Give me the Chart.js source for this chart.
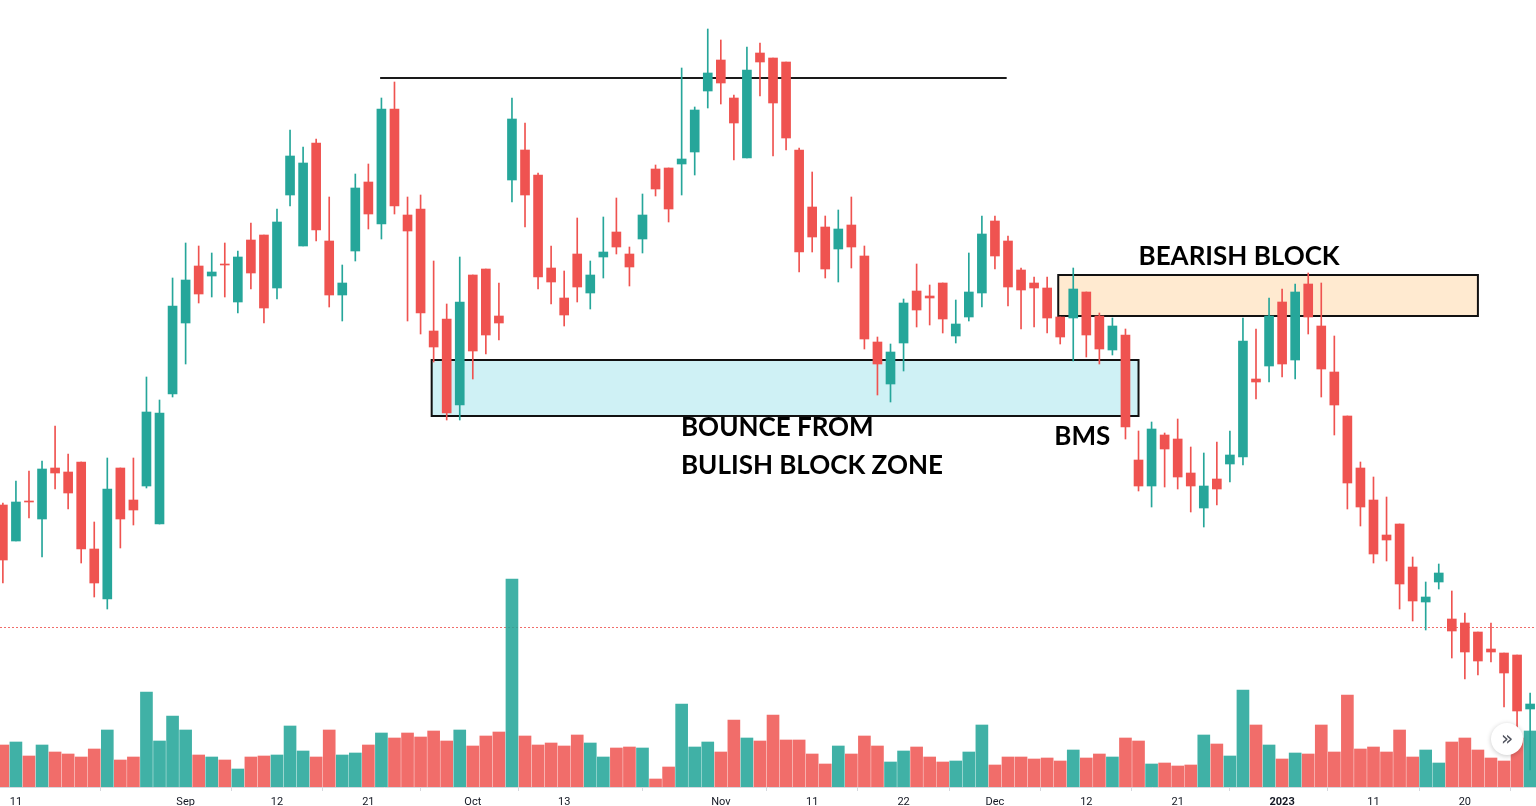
<!DOCTYPE html>
<html>
<head>
<meta charset="utf-8">
<script src="https://cdn.jsdelivr.net/npm/chart.js@4.4.1/dist/chart.umd.min.js"></script>
<style>
  html, body { margin: 0; padding: 0; background: #ffffff; overflow: hidden; }
  #wrap { position: relative; width: 1536px; height: 806px; }
  canvas { display: block; }
  #scrollBtn {
    position: absolute; left: 1491px; top: 723px; width: 32px; height: 32px;
    border-radius: 50%; background: #ffffff; box-shadow: 0 1px 5px rgba(0,0,0,0.22);
    font: 20px "DejaVu Sans", sans-serif; color: #50535e; text-align: center; line-height: 30px;
  }
</style>
</head>
<body>
<div id="wrap">
  <canvas id="c" width="1536" height="806"></canvas>
  <div id="scrollBtn">»</div>
</div>
<script>
// ---- Trading days (categories) ----
const dates = [
  '2022-08-10','2022-08-11','2022-08-12','2022-08-16','2022-08-17','2022-08-18','2022-08-19','2022-08-22','2022-08-23','2022-08-24',
  '2022-08-25','2022-08-26','2022-08-29','2022-08-30',
  '2022-09-01','2022-09-02','2022-09-05','2022-09-06','2022-09-07','2022-09-08','2022-09-09','2022-09-12','2022-09-13','2022-09-14',
  '2022-09-15','2022-09-16','2022-09-19','2022-09-20','2022-09-21','2022-09-22','2022-09-23','2022-09-26','2022-09-27','2022-09-28',
  '2022-09-29','2022-09-30',
  '2022-10-03','2022-10-04','2022-10-06','2022-10-07','2022-10-10','2022-10-11','2022-10-12','2022-10-13','2022-10-14','2022-10-17',
  '2022-10-18','2022-10-19','2022-10-20','2022-10-21','2022-10-24','2022-10-25','2022-10-27','2022-10-28','2022-10-31',
  '2022-11-01','2022-11-02','2022-11-03','2022-11-04','2022-11-07','2022-11-09','2022-11-10','2022-11-11','2022-11-14','2022-11-15',
  '2022-11-16','2022-11-17','2022-11-18','2022-11-21','2022-11-22','2022-11-23','2022-11-24','2022-11-25','2022-11-28','2022-11-29',
  '2022-11-30',
  '2022-12-01','2022-12-02','2022-12-05','2022-12-06','2022-12-07','2022-12-08','2022-12-09','2022-12-12','2022-12-13','2022-12-14',
  '2022-12-15','2022-12-16','2022-12-19','2022-12-20','2022-12-21','2022-12-22','2022-12-23','2022-12-26','2022-12-27','2022-12-28',
  '2022-12-29','2022-12-30',
  '2023-01-02','2023-01-03','2023-01-04','2023-01-05','2023-01-06','2023-01-09','2023-01-10','2023-01-11','2023-01-12','2023-01-13',
  '2023-01-16','2023-01-17','2023-01-18','2023-01-19','2023-01-20','2023-01-23','2023-01-24','2023-01-25','2023-01-27','2023-01-30'
];

// ---- OHLC series ----
const openP = [
  295,259,299,281,332,328,338,251,201,332, 300,314,276,406,477,534,524,536,498,560,
  565,512,605,554,657,559,505,549,618,576, 691,585,591,469,481,395,525,531,484,620,
  650,625,532,502,546,507,543,568,546,561, 631,632,636,648,709,740,702,642,747,742,
  738,650,593,573,551,575,544,458,416,457, 509,504,517,464,483,507,579,559,530,517,
  512,483,482,508,484,450,465,340,314,365, 361,327,292,321,336,343,421,434,498,440,
  516,474,428,384,332,300,265,276,233,198, 218,181,177,168,151,147,145,91
];
const highP = [
  297,319,329,339,374,346,338,278,342,332, 342,423,400,522,557,554,547,557,549,577,
  565,591,670,653,661,603,535,626,636,702, 718,603,605,539,496,543,525,531,517,702,
  677,627,554,529,582,539,583,602,553,606, 635,632,732,693,771,760,705,753,757,742,
  738,652,628,584,590,603,554,463,456,501, 536,515,517,500,547,584,584,564,532,523,
  523,483,532,508,487,482,471,369,378,367, 381,353,347,358,369,482,471,502,511,516,
  527,517,464,384,338,323,303,276,243,218, 236,209,187,168,177,147,145,107
];
const lowP = [
  217,259,282,243,311,291,237,203,191,252, 275,312,276,403,436,497,503,503,487,511,
  477,501,594,554,559,493,479,539,571,561, 586,479,466,438,380,380,421,446,460,598,
  573,511,496,474,498,491,522,546,514,547, 604,578,605,625,692,696,640,642,704,644,
  650,528,548,522,518,532,451,405,398,429, 473,475,467,457,479,493,531,494,471,473,
  467,456,439,443,436,445,361,309,293,313, 311,288,273,295,318,335,401,418,423,421,
  466,403,365,291,274,237,239,191,179,170, 211,142,121,125,138,93,72,30
];
const closeP = [
  240,298,298,331,327,307,251,217,311,281, 290,388,387,494,520,506,528,535,543,527,
  492,578,644,637,570,505,517,612,586,691, 594,569,487,453,387,498,449,465,477,681,
  605,523,518,485,513,525,548,553,533,585, 611,591,641,690,727,717,677,730,738,697,
  662,548,563,531,571,553,461,436,448,497, 490,502,481,476,508,566,544,513,510,512,
  482,463,511,465,451,474,373,314,371,351, 323,314,314,311,345,459,418,484,436,508,
  483,431,395,317,293,246,260,216,199,203, 227,169,148,139,148,127,89,96
];

// ---- Volume series ----
const volume = [
  42,45,31,42,35,33,30,38,57,27, 30,95,46,71,57,32,30,27,18,30,
  31,32,61,36,30,57,32,34,42,54, 49,54,50,56,46,57,41,51,55,208,
  51,42,44,41,52,44,30,39,40,39, 8,20,83,40,45,35,67,49,46,72,
  47,47,33,23,41,33,51,41,25,36, 40,30,25,26,35,62,22,30,30,28,
  29,26,37,29,33,30,49,46,23,24, 21,22,52,43,31,97,62,42,28,34,
  33,62,35,92,38,40,35,57,30,37, 24,45,49,37,29,26,49,56
];

// ---- Axis tick labels ----
const tickDates  = ['2022-08-11','2022-09-01','2022-09-12','2022-09-21','2022-10-03','2022-10-13','2022-11-01',
                    '2022-11-11','2022-11-22','2022-12-01','2022-12-12','2022-12-21','2023-01-02','2023-01-11','2023-01-20'];
const tickLabels = ['11','Sep','12','21','Oct','13','Nov','11','22','Dec','12','21','2023','11','20'];

// ---- Drawing annotations (index / price units) ----
const resistanceLine = { from: 28.9, to: 76.9, price: 722 };
const bullishZone = { from: 32.85, to: 87.0, top: 440, bottom: 384 };
const bearishZone = { from: 80.85, to: 113.0, top: 525, bottom: 484 };
const lastPriceLine = 173;
const notes = [
  { text: 'BEARISH BLOCK', at: 87.0, price: 535 },
  { text: 'BOUNCE FROM', at: 51.95, price: 364 },
  { text: 'BULISH BLOCK ZONE', at: 51.95, price: 326 },
  { text: 'BMS', at: 80.55, price: 355 }
];

const UP = '#26a69a', DOWN = '#ef5350';
const UP_VOL = 'rgba(38,166,154,0.88)', DOWN_VOL = 'rgba(239,83,80,0.85)';
const isUp = dates.map((d, i) => closeP[i] >= openP[i]);
const candleColors = isUp.map(u => u ? UP : DOWN);
const volColors = isUp.map(u => u ? UP_VOL : DOWN_VOL);
const tickValues = tickDates.map(d => dates.indexOf(d));

const annotationPlugin = {
  id: 'tvAnnotations',
  beforeDatasetsDraw(chart) {
    const { ctx, chartArea, scales } = chart;
    const x = scales.x, p = scales.price;
    ctx.save();
    // last price dotted line
    ctx.strokeStyle = 'rgba(239,83,80,0.85)';
    ctx.lineWidth = 1;
    ctx.setLineDash([2, 2]);
    const yl = Math.round(p.getPixelForValue(lastPriceLine)) + 0.5;
    ctx.beginPath(); ctx.moveTo(chartArea.left, yl); ctx.lineTo(chartArea.right, yl); ctx.stroke();
    ctx.setLineDash([]);
    // zones
    [[bullishZone, '#cff1f5'], [bearishZone, '#ffead0']].forEach(([z, fill]) => {
      const x1 = x.getPixelForValue(z.from), x2 = x.getPixelForValue(z.to);
      const y1 = p.getPixelForValue(z.top), y2 = p.getPixelForValue(z.bottom);
      ctx.fillStyle = fill;
      ctx.fillRect(x1, y1, x2 - x1, y2 - y1);
      ctx.strokeStyle = '#111111';
      ctx.lineWidth = 2;
      ctx.strokeRect(x1, y1, x2 - x1, y2 - y1);
    });
    // resistance line
    ctx.strokeStyle = '#1a1a1a';
    ctx.lineWidth = 2;
    const ry = p.getPixelForValue(resistanceLine.price);
    ctx.beginPath();
    ctx.moveTo(x.getPixelForValue(resistanceLine.from), ry);
    ctx.lineTo(x.getPixelForValue(resistanceLine.to), ry);
    ctx.stroke();
    ctx.restore();
  },
  afterDatasetsDraw(chart) {
    const { ctx, scales } = chart;
    ctx.save();
    ctx.font = 'bold 26px Lato, "Open Sans", sans-serif';
    ctx.fillStyle = '#000000';
    ctx.textAlign = 'left';
    ctx.textBaseline = 'alphabetic';
    notes.forEach(n => {
      ctx.fillText(n.text, scales.x.getPixelForValue(n.at), scales.price.getPixelForValue(n.price));
    });
    ctx.restore();
  }
};

new Chart(document.getElementById('c'), {
  type: 'bar',
  data: {
    datasets: [
      {
        label: 'Body', yAxisID: 'price', order: 0, grouped: false, barThickness: 9, borderWidth: 0,
        data: dates.map((d, i) => ({ x: i, y: [openP[i], closeP[i]] })),
        backgroundColor: candleColors
      },
      {
        label: 'Wick', yAxisID: 'price', order: 1, grouped: false, barThickness: 1, borderWidth: 0,
        data: dates.map((d, i) => ({ x: i, y: [lowP[i], highP[i]] })),
        backgroundColor: candleColors
      },
      {
        label: 'Volume', yAxisID: 'vol', order: 2, grouped: false, barThickness: 12, borderWidth: 0,
        data: dates.map((d, i) => ({ x: i, y: volume[i] })),
        backgroundColor: volColors
      }
    ]
  },
  options: {
    responsive: false,
    animation: false,
    layout: { padding: 0 },
    plugins: { legend: { display: false }, tooltip: { enabled: false } },
    scales: {
      x: {
        type: 'linear', min: -0.22, max: 117.45, offset: false,
        grid: { display: true, drawOnChartArea: false, drawTicks: true, tickLength: 4, color: '#d6d8de' },
        border: { display: true, color: '#d6d8de' },
        afterBuildTicks: s => { s.ticks = tickValues.map(v => ({ value: v })); },
        afterFit: s => { s.height = 19; },
        ticks: {
          autoSkip: false, maxRotation: 0, padding: 5, color: '#131722',
          font: c => ({ family: 'Roboto, "Liberation Sans", sans-serif', size: 11,
                        weight: (c.tick && tickLabels[tickValues.indexOf(c.tick.value)] === '2023') ? 'bold' : 'normal' }),
          callback: v => { const k = tickValues.indexOf(v); return k >= 0 ? tickLabels[k] : ''; }
        }
      },
      price: { display: false, min: 13, max: 800 },
      vol: { display: false, min: 0, max: 787 }
    }
  },
  plugins: [annotationPlugin]
});
</script>
</body>
</html>
